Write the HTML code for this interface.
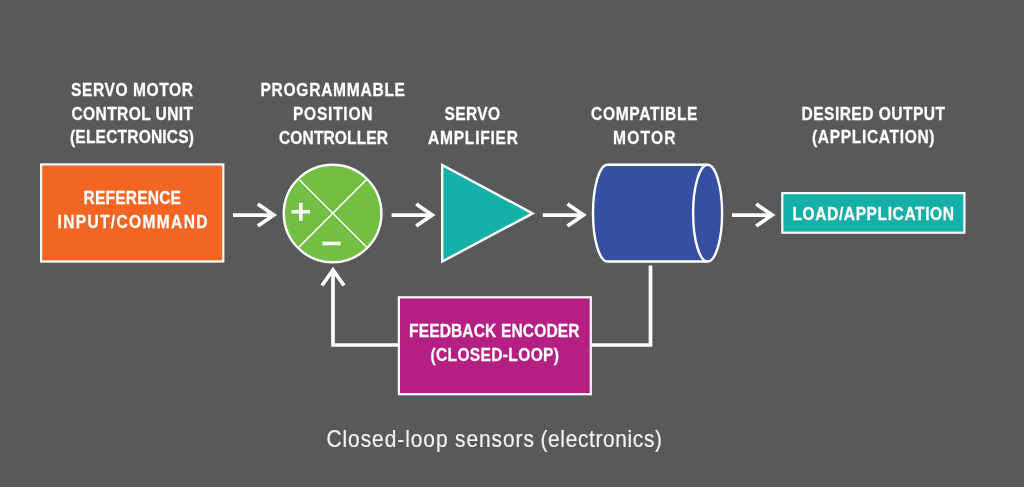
<!DOCTYPE html>
<html><head><meta charset="utf-8"><style>
html,body{margin:0;padding:0;background:#58595b;width:1024px;height:487px;overflow:hidden}
svg{display:block;will-change:transform;font-family:"Liberation Sans",sans-serif}
</style></head><body>
<svg width="1024" height="487" viewBox="0 0 1024 487">
<rect width="1024" height="487" fill="#58595b"/>
<path d="M650.5,265.5 V345 H333 V272" stroke="#fff" stroke-width="3.7" fill="none" stroke-linejoin="miter"/>
<path d="M322,285.5 L333,270 L344,285.5" stroke="#fff" stroke-width="3.7" fill="none" stroke-linejoin="miter" stroke-miterlimit="10"/>
<rect x="41.1" y="164.4" width="182.20000000000002" height="97.1" fill="#f26522" stroke="#fff" stroke-width="2.2"/>
<circle cx="332.6" cy="213.5" r="48.8" fill="#72bf44" stroke="#fff" stroke-width="2.4"/>
<clipPath id="cc"><circle cx="332.6" cy="213.5" r="48.8"/></clipPath>
<path clip-path="url(#cc)" d="M292.8,173.2 L372.8,253.2 M372.8,173.2 L292.8,253.2" stroke="#fff" stroke-width="1.6"/>
<path d="M291.6,211.8 H310 M300.8,203 V220.8" stroke="#fff" stroke-width="3.6"/>
<path d="M322.5,243.5 H340.6" stroke="#fff" stroke-width="3.6"/>
<path d="M442.2,165 L442.2,261.6 L532.6,213.4 Z" fill="#14b1a8" stroke="#fff" stroke-width="2.4" stroke-linejoin="miter"/>
<path d="M607.5,164.79999999999998 L707.6,164.79999999999998 A14.5,48.35000000000001 0 0 1 707.6,261.5 L607.5,261.5 A14.5,48.35000000000001 0 0 1 607.5,164.79999999999998 Z" fill="#3550a3" stroke="#fff" stroke-width="2.4"/>
<path d="M707.6,164.79999999999998 A14.5,48.35000000000001 0 0 0 707.6,261.5" fill="none" stroke="#fff" stroke-width="2.4"/>
<rect x="782.3000000000001" y="193.1" width="182.10000000000002" height="39.599999999999994" fill="#14afa6" stroke="#fff" stroke-width="2.2"/>
<rect x="398.90000000000003" y="297.3" width="191.9" height="96.89999999999999" fill="#b51f83" stroke="#fff" stroke-width="2.2"/>
<path d="M233,215.1 H272.79999999999995" stroke="#fff" stroke-width="3.7" fill="none"/><path d="M257.79999999999995,204.1 L273.79999999999995,215.1 L257.79999999999995,226.1" stroke="#fff" stroke-width="3.7" fill="none" stroke-linejoin="miter" stroke-miterlimit="10"/>
<path d="M391.6,215.1 H431.2" stroke="#fff" stroke-width="3.7" fill="none"/><path d="M416.2,204.1 L432.2,215.1 L416.2,226.1" stroke="#fff" stroke-width="3.7" fill="none" stroke-linejoin="miter" stroke-miterlimit="10"/>
<path d="M542.8,215.1 H582.5" stroke="#fff" stroke-width="3.7" fill="none"/><path d="M567.5,204.1 L583.5,215.1 L567.5,226.1" stroke="#fff" stroke-width="3.7" fill="none" stroke-linejoin="miter" stroke-miterlimit="10"/>
<path d="M732,215.1 H771.1999999999999" stroke="#fff" stroke-width="3.7" fill="none"/><path d="M756.1999999999999,204.1 L772.1999999999999,215.1 L756.1999999999999,226.1" stroke="#fff" stroke-width="3.7" fill="none" stroke-linejoin="miter" stroke-miterlimit="10"/>
<text transform="scale(0.89,1)" x="79.78" y="96.10" textLength="137.08" lengthAdjust="spacing" font-size="17.5" font-weight="bold" fill="#fff" stroke="#fff" stroke-width="0.25">SERVO MOTOR</text>
<text transform="scale(0.89,1)" x="80.34" y="119.60" textLength="136.52" lengthAdjust="spacing" font-size="17.5" font-weight="bold" fill="#fff" stroke="#fff" stroke-width="0.25">CONTROL UNIT</text>
<text transform="scale(0.89,1)" x="78.65" y="143.20" textLength="139.33" lengthAdjust="spacing" font-size="17.5" font-weight="bold" fill="#fff" stroke="#fff" stroke-width="0.25">(ELECTRONICS)</text>
<text transform="scale(0.89,1)" x="292.70" y="96.20" textLength="162.36" lengthAdjust="spacing" font-size="17.5" font-weight="bold" fill="#fff" stroke="#fff" stroke-width="0.25">PROGRAMMABLE</text>
<text transform="scale(0.89,1)" x="329.21" y="119.80" textLength="89.33" lengthAdjust="spacing" font-size="17.5" font-weight="bold" fill="#fff" stroke="#fff" stroke-width="0.25">POSITION</text>
<text transform="scale(0.89,1)" x="313.48" y="143.90" textLength="122.47" lengthAdjust="spacing" font-size="17.5" font-weight="bold" fill="#fff" stroke="#fff" stroke-width="0.25">CONTROLLER</text>
<text transform="scale(0.89,1)" x="499.44" y="119.90" textLength="62.36" lengthAdjust="spacing" font-size="17.5" font-weight="bold" fill="#fff" stroke="#fff" stroke-width="0.25">SERVO</text>
<text transform="scale(0.89,1)" x="480.90" y="143.60" textLength="101.12" lengthAdjust="spacing" font-size="17.5" font-weight="bold" fill="#fff" stroke="#fff" stroke-width="0.25">AMPLIFIER</text>
<text transform="scale(0.89,1)" x="664.04" y="119.90" textLength="119.66" lengthAdjust="spacing" font-size="17.5" font-weight="bold" fill="#fff" stroke="#fff" stroke-width="0.25">COMPATIBLE</text>
<text transform="scale(0.89,1)" x="688.76" y="143.60" textLength="70.22" lengthAdjust="spacing" font-size="17.5" font-weight="bold" fill="#fff" stroke="#fff" stroke-width="0.25">MOTOR</text>
<text transform="scale(0.89,1)" x="900.56" y="119.80" textLength="161.24" lengthAdjust="spacing" font-size="17.5" font-weight="bold" fill="#fff" stroke="#fff" stroke-width="0.25">DESIRED OUTPUT</text>
<text transform="scale(0.89,1)" x="912.36" y="143.40" textLength="137.64" lengthAdjust="spacing" font-size="17.5" font-weight="bold" fill="#fff" stroke="#fff" stroke-width="0.25">(APPLICATION)</text>
<text transform="scale(0.89,1)" x="93.82" y="204.10" textLength="109.55" lengthAdjust="spacing" font-size="17.5" font-weight="bold" fill="#fff" stroke="#fff" stroke-width="0.25">REFERENCE</text>
<text transform="scale(0.89,1)" x="64.61" y="227.80" textLength="168.54" lengthAdjust="spacing" font-size="17.5" font-weight="bold" fill="#fff" stroke="#fff" stroke-width="0.25">INPUT/COMMAND</text>
<text transform="scale(0.89,1)" x="890.45" y="219.70" textLength="181.46" lengthAdjust="spacing" font-size="17.5" font-weight="bold" fill="#fff" stroke="#fff" stroke-width="0.25">LOAD/APPLICATION</text>
<text transform="scale(0.89,1)" x="459.55" y="337.40" textLength="191.57" lengthAdjust="spacing" font-size="17.5" font-weight="bold" fill="#fff" stroke="#fff" stroke-width="0.25">FEEDBACK ENCODER</text>
<text transform="scale(0.89,1)" x="483.71" y="360.60" textLength="144.38" lengthAdjust="spacing" font-size="17.5" font-weight="bold" fill="#fff" stroke="#fff" stroke-width="0.25">(CLOSED-LOOP)</text>
<text transform="scale(0.87,1)" x="375.29" y="447.00" textLength="139.08" lengthAdjust="spacing" font-size="24" font-weight="normal" fill="#f2f2f2" stroke="#f2f2f2" stroke-width="0.2">Closed-loop</text>
<text transform="scale(0.87,1)" x="522.99" y="447.00" textLength="90.80" lengthAdjust="spacing" font-size="24" font-weight="normal" fill="#f2f2f2" stroke="#f2f2f2" stroke-width="0.2">sensors</text>
<text transform="scale(0.87,1)" x="621.26" y="447.00" textLength="139.66" lengthAdjust="spacing" font-size="24" font-weight="normal" fill="#f2f2f2" stroke="#f2f2f2" stroke-width="0.2">(electronics)</text>
</svg>
</body></html>
